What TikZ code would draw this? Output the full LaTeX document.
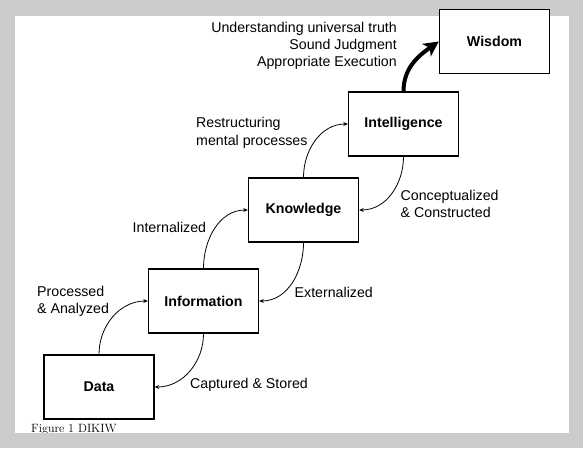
\documentclass[tikz,border=0pt]{standalone}
\usepackage{fontspec}
\setsansfont{Liberation Sans}
\usetikzlibrary{arrows.meta}
\definecolor{bggray}{RGB}{204,204,204}
\tikzset{
  box/.style={draw=black, line width=1.4pt, fill=white, minimum width=110pt, minimum height=64pt,
    inner sep=0pt, font=\sffamily\bfseries\fontsize{14.2}{17}\selectfont},
  conn/.style={draw=black, line width=0.8pt, -{Stealth[length=4.5pt,width=4pt]}},
  bigconn/.style={draw=black, line width=4pt, -{Stealth[length=15pt,width=15pt,inset=4pt]}},
  lbl/.style={inner sep=0pt, font=\sffamily\fontsize{14.2}{17}\selectfont},
  lblr/.style={lbl, anchor=base east},
  lbll/.style={lbl, anchor=base west},
  figcap/.style={inner sep=0pt, anchor=base west, font=\rmfamily\fontsize{12}{14}\selectfont}
}
\begin{document}
\begin{tikzpicture}[x=1pt,y=-1pt]
\useasboundingbox (0,0) rectangle (583,448);
\fill[bggray] (0,0) rectangle (583,448);
\fill[white] (15,15.5) rectangle (569,432.5);
\begin{scope}
  \clip (15,15.5) rectangle (569,432.5);
  \node[figcap] (caption) at (31,432.5) {Figure 1 DIKIW};
\end{scope}

\node[box] (data) at (99,387) {Data};
\node[box] (info) at (203.5,301) {Information};
\node[box] (know) at (303.5,210) {Knowledge};
\node[box] (intel) at (403.5,124) {Intelligence};
\node[box] (wis) at (494.5,41.5) {Wisdom};

\draw[conn] (data.north) to[out=90,in=180] (info.west);
\draw[conn] (info.south) to[out=-90,in=0] (data.east);
\draw[conn] (info.north) to[out=90,in=180] (know.west);
\draw[conn] (know.south) to[out=-90,in=0] (info.east);
\draw[conn] (know.north) to[out=90,in=180] (intel.west);
\draw[conn] (intel.south) to[out=-90,in=0] (know.east);
\draw[bigconn] (intel.north) to[out=90,in=215] (wis.west);

\node[lblr] (u1) at (397,32) {Understanding universal truth};
\node[lblr] (u2) at (397,49) {Sound Judgment};
\node[lblr] (u3) at (397,66) {Appropriate Execution};
\node[lbll] (r1) at (196,127) {Restructuring};
\node[lbll] (r2) at (196,145) {mental processes};
\node[lbll] (c1) at (400.5,200) {Conceptualized};
\node[lbll] (c2) at (400.5,217) {\& Constructed};
\node[lbll] (in) at (132.5,232) {Internalized};
\node[lbll] (ex) at (294.5,297) {Externalized};
\node[lbll] (p1) at (37,296) {Processed};
\node[lbll] (p2) at (37,313) {\& Analyzed};
\node[lbll] (cs) at (190,388) {Captured \& Stored};
\end{tikzpicture}
\end{document}
